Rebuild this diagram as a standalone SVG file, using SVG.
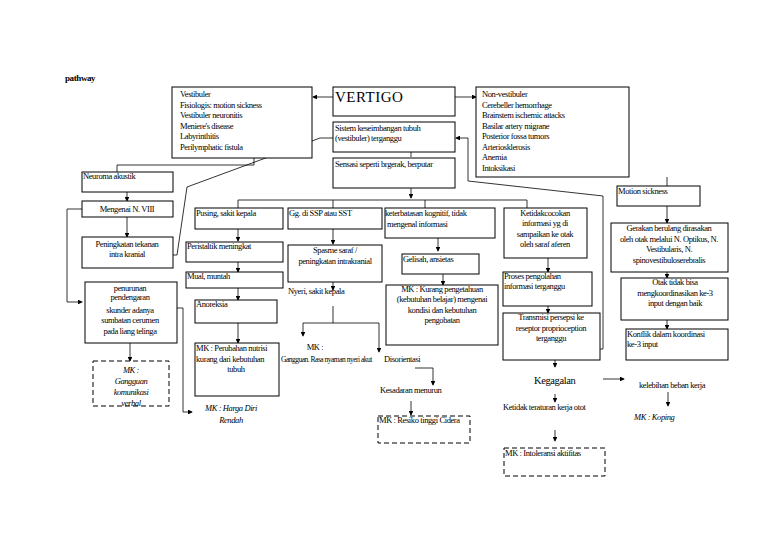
<svg xmlns="http://www.w3.org/2000/svg" width="768" height="543" viewBox="0 0 768 543">
<defs>
<marker id="ah" viewBox="0 0 6 6" refX="5" refY="3" markerWidth="6" markerHeight="6" orient="auto"><path d="M0,0 L6,3 L0,6 z" fill="#000"/></marker>
<style>
text{font-family:"Liberation Serif",serif;font-size:8.5px;fill:#000;letter-spacing:-0.4px}
.b{fill:#fff;stroke:#000;stroke-width:1}
.d{fill:#fff;stroke:#000;stroke-width:1;stroke-dasharray:5,3}
.c line,.c polyline{stroke:#000;stroke-width:0.8;fill:none}
.a{marker-end:url(#ah)}
.i{font-style:italic}
.m{text-anchor:middle}
</style>
</defs>
<rect width="768" height="543" fill="#fff"/>
<text x="65" y="81" font-weight="bold" style="font-size:9px">pathway</text>
<g class="c">
<line class="a" x1="333" y1="97" x2="313" y2="97"/>
<line class="a" x1="455" y1="97" x2="476" y2="97"/>
<line x1="411" y1="152" x2="411" y2="157"/>
<polyline class="a" points="600,349 603,349 603,196 468,181 468,138 456,138"/>
<polyline points="333,138 320,138 187,187 177,255 173,255"/>
<polyline points="254,155 254,165 117,165 117,172"/>
<line class="a" x1="127" y1="192" x2="127" y2="201"/>
<line class="a" x1="127" y1="217" x2="127" y2="237"/>
<polyline class="a" points="82,209 67,209 67,302 82,302"/>
<line class="a" x1="130" y1="343" x2="130" y2="361"/>
<polyline class="a" points="177,308 183,308 183,412 192,412"/>
<line class="a" x1="411" y1="188" x2="411" y2="198"/>
<line x1="238" y1="200" x2="527" y2="200"/>
<line x1="238" y1="200" x2="238" y2="208"/>
<line x1="333" y1="200" x2="333" y2="208"/>
<line x1="425" y1="200" x2="425" y2="208"/>
<line x1="527" y1="200" x2="527" y2="208"/>
<line x1="667" y1="177" x2="667" y2="186"/>
<line class="a" x1="238" y1="229" x2="238" y2="241"/>
<line class="a" x1="238" y1="262" x2="238" y2="272"/>
<line class="a" x1="238" y1="288" x2="238" y2="300"/>
<line class="a" x1="238" y1="323" x2="238" y2="343"/>
<line class="a" x1="333" y1="229" x2="333" y2="244"/>
<line class="a" x1="333" y1="282" x2="333" y2="290"/>
<line x1="333" y1="306" x2="333" y2="323"/>
<line x1="303" y1="323" x2="379" y2="323"/>
<line class="a" x1="303" y1="323" x2="303" y2="336"/>
<line class="a" x1="379" y1="323" x2="379" y2="352"/>
<line class="a" x1="438" y1="238" x2="438" y2="251"/>
<line class="a" x1="443" y1="274" x2="443" y2="285"/>
<polyline class="a" points="415,368 433,368 433,385"/>
<line class="a" x1="411" y1="401" x2="411" y2="415"/>
<line class="a" x1="548" y1="258" x2="548" y2="272"/>
<line class="a" x1="548" y1="306" x2="548" y2="313"/>
<line class="a" x1="555" y1="360" x2="555" y2="367"/>
<line class="a" x1="555" y1="394" x2="555" y2="402"/>
<line class="a" x1="555" y1="430" x2="555" y2="441"/>
<line class="a" x1="603" y1="379" x2="624" y2="379"/>
<line class="a" x1="668" y1="392" x2="668" y2="406"/>
<line class="a" x1="667" y1="206" x2="667" y2="223"/>
<line class="a" x1="667" y1="272" x2="667" y2="278"/>
<line class="a" x1="667" y1="320" x2="667" y2="329"/>
</g>
<g id="vestibuler"><rect class="b" x="172" y="87" width="140" height="71"/>
<text x="180" y="97">Vestibuler</text><text x="180" y="108">Fisiologis: motion sickness</text><text x="180" y="118">Vestibuler neuronitis</text><text x="180" y="129">Meniere's disease</text><text x="180" y="139">Labyrinthitis</text><text x="180" y="150">Perilymphatic fistula</text></g>
<g id="vertigo"><rect class="b" x="333" y="87" width="122" height="29"/><text x="335" y="102" style="font-size:15px;letter-spacing:0.5px">VERTIGO</text></g>
<g id="sistem"><rect class="b" x="333" y="122" width="122" height="30"/><text x="335" y="131">Sistem keseimbangan tubuh</text><text x="335" y="141">(vestibuler) terganggu</text></g>
<g id="sensasi"><rect class="b" x="333" y="158" width="122" height="30"/><text x="335" y="167">Sensasi seperti brgerak, berputar</text></g>
<g id="nonvest"><rect class="b" x="476" y="87" width="153" height="90"/>
<text x="482" y="97">Non-vestibuler</text><text x="482" y="108">Cerebeller hemorrhage</text><text x="482" y="118">Brainstem ischemic attacks</text><text x="482" y="129">Basilar artery migrane</text><text x="482" y="139">Posterior fossa tumors</text><text x="482" y="150">Arteriosklerosis</text><text x="482" y="160">Anemia</text><text x="482" y="171">Intoksikasi</text></g>
<g id="neuroma"><rect class="b" x="82" y="172" width="91" height="20"/><text x="83" y="179">Neuroma akustik</text></g>
<g id="mengenai"><rect class="b" x="82" y="201" width="91" height="16"/><text x="127" y="212" class="m">Mengenai N. VIII</text></g>
<g id="peningkatan"><rect class="b" x="82" y="237" width="91" height="31"/><text x="127" y="247" class="m">Peningkatan tekanan</text><text x="127" y="257" class="m">intra kranial</text></g>
<g id="penurunan"><rect class="b" x="85" y="282" width="92" height="61"/><text x="130" y="291" class="m">penurunan</text><text x="130" y="300" class="m">pendengaran</text><text x="130" y="313" class="m">skunder adanya</text><text x="130" y="323" class="m">sumbatan cerumen</text><text x="130" y="334" class="m">pada liang telinga</text></g>
<g id="mkgangguan"><rect class="d" x="93" y="361" width="76" height="45"/><text x="131" y="373" class="m i">MK :</text><text x="131" y="384" class="m i">Gangguan</text><text x="131" y="395" class="m i">komunikasi</text><text x="131" y="406" class="m i">verbal</text></g>
<g id="pusing"><rect class="b" x="195" y="208" width="88" height="21"/><text x="196" y="216">Pusing, sakit kepala</text></g>
<g id="ggssp"><rect class="b" x="288" y="208" width="94" height="21"/><text x="289" y="216">Gg. di SSP atau SST</text></g>
<g id="keterbatasan"><rect class="b" x="385" y="208" width="110" height="30"/><text x="385" y="216">keterbatasan kognitif, tidak</text><text x="387" y="227">mengenal informasi</text></g>
<g id="ketidakcocokan"><rect class="b" x="504" y="208" width="83" height="50"/><text x="545" y="216" class="m">Ketidakcocokan</text><text x="545" y="226" class="m">informasi yg di</text><text x="545" y="237" class="m">sampaikan ke otak</text><text x="545" y="247" class="m">oleh saraf aferen</text></g>
<g id="motion"><rect class="b" x="617" y="186" width="83" height="20"/><text x="618" y="194">Motion sickness</text></g>
<g id="gerakan"><rect class="b" x="611" y="223" width="117" height="49"/><text x="669" y="231" class="m">Gerakan berulang dirasakan</text><text x="669" y="242" class="m">oleh otak melalui N. Optikus, N.</text><text x="669" y="252" class="m">Vestibularis, N.</text><text x="669" y="263" class="m">spinovestibuloserebralis</text></g>
<g id="peristaltik"><rect class="b" x="186" y="242" width="97" height="20"/><text x="187" y="249">Peristaltik meningkat</text></g>
<g id="spasme"><rect class="b" x="288" y="245" width="94" height="37"/><text x="335" y="253" class="m">Spasme saraf /</text><text x="335" y="264" class="m">peningkatan intrakranial</text></g>
<g id="gelisah"><rect class="b" x="402" y="254" width="77" height="20"/><text x="403" y="262">Gelisah, ansietas</text></g>
<g id="mual"><rect class="b" x="186" y="272" width="97" height="16"/><text x="187" y="279">Mual, muntah</text></g>
<g id="anoreksia"><rect class="b" x="195" y="300" width="82" height="23"/><text x="196" y="307">Anoreksia</text></g>
<g id="mkperubahan"><rect class="b" x="195" y="343" width="84" height="53"/><text x="196" y="351">MK : Perubahan nutrisi</text><text x="196" y="362">kurang dari kebutuhan</text><text x="236" y="372" class="m">tubuh</text></g>
<g id="mkharga"><text x="231" y="411" class="m i">MK : Harga Diri</text><text x="231" y="423" class="m i">Rendah</text></g>
<g id="nyeri"><text x="288" y="294">Nyeri, sakit kepala</text></g>
<g id="mknyeri"><text x="315" y="350" class="m">MK :</text><text x="281" y="362" style="font-size:7.5px;letter-spacing:-0.5px">Gangguan. Rasa nyaman nyeri akut</text><text x="384" y="362">Disorientasi</text></g>
<g id="mkkurang"><rect class="b" x="386" y="285" width="112" height="60"/><text x="442" y="292" class="m">MK : Kurang pengetahuan</text><text x="442" y="302" class="m">(kebutuhan belajar) mengenai</text><text x="442" y="313" class="m">kondisi dan kebutuhan</text><text x="442" y="323" class="m">pengobatan</text></g>
<g id="kesadaran"><text x="380" y="393">Kesadaran menurun</text></g>
<g id="mkresiko"><rect class="d" x="378" y="416" width="92" height="27"/><text x="379" y="423">MK : Resiko tinggi Cidera</text></g>
<g id="proses"><rect class="b" x="503" y="272" width="89" height="34"/><text x="504" y="279">Proses pengolahan</text><text x="504" y="289">informasi terganggu</text></g>
<g id="transmisi"><rect class="b" x="503" y="313" width="97" height="47"/><text x="551" y="320" class="m">Transmisi persepsi ke</text><text x="551" y="331" class="m">reseptor proprioception</text><text x="551" y="341" class="m">terganggu</text></g>
<g id="otak"><rect class="b" x="621" y="278" width="107" height="42"/><text x="675" y="285" class="m">Otak tidak bisa</text><text x="675" y="296" class="m">mengkoordinasikan ke-3</text><text x="675" y="306" class="m">input dengan baik</text></g>
<g id="konflik"><rect class="b" x="626" y="329" width="102" height="31"/><text x="627" y="337">Konflik dalam koordinasi</text><text x="627" y="347">ke-3 input</text></g>
<g id="kegagalan"><text x="534" y="384" style="font-size:10.5px">Kegagalan</text></g>
<g id="kelebihan"><text x="639" y="388">kelebihan beban kerja</text></g>
<g id="mkkoping"><text x="634" y="420" class="i">MK : Koping</text></g>
<g id="ketidakteraturan"><text x="503" y="410">Ketidak teraturan kerja otot</text></g>
<g id="mkintoleransi"><rect class="d" x="504" y="448" width="101" height="28"/><text x="505" y="456">MK : Intoleransi aktifitas</text></g>
</svg>
